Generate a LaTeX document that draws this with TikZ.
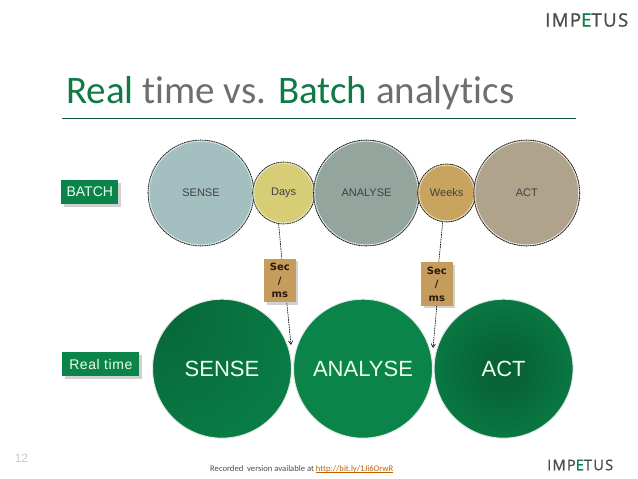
\documentclass[tikz,border=0pt]{standalone}
\usepackage{fontspec}
\setmainfont{Liberation Sans}
\newfontfamily\titlefont[Ligatures=NoCommon]{Carlito}
\newfontfamily\secfont{DejaVu Sans}
\newfontfamily\logofont[LetterSpace=8,FakeBold=1.2]{Open Sans}
\newfontfamily\tagfont[LetterSpace=4]{Liberation Sans}
\usetikzlibrary{shadows,arrows}
\definecolor{impgreen}{HTML}{0A8449}
\definecolor{titlegreen}{HTML}{107A46}
\definecolor{titlegray}{HTML}{6E6E6E}
\definecolor{ringgray}{HTML}{E4E8E6}
\definecolor{tan}{HTML}{C69C5C}
\definecolor{BatchSense}{HTML}{A3BFC0}
\definecolor{BatchDays}{HTML}{D6CD76}
\definecolor{BatchAnalyse}{HTML}{94A59E}
\definecolor{BatchWeeks}{HTML}{C9A45F}
\definecolor{BatchAct}{HTML}{B0A38C}
\pgfdeclareradialshading{sensegreen}{\pgfpoint{-30bp}{26bp}}{color(0bp)=(black!25!impgreen);color(8bp)=(black!22!impgreen);color(45bp)=(black!6!impgreen);color(75bp)=(impgreen);color(100bp)=(impgreen)}
\pgfdeclareradialshading{actgreen}{\pgfpoint{0bp}{0bp}}{color(0bp)=(black!26!impgreen);color(8bp)=(black!24!impgreen);color(30bp)=(black!5!impgreen);color(50bp)=(black!3!impgreen);color(100bp)=(black!3!impgreen)}
\tikzset{
  batchcirc/.style 2 args={circle, inner sep=0pt, minimum size=#1, fill=#2, draw=black, dash pattern=on 1.6pt off .7pt, line width=.6pt,
    font=\fontsize{11}{13}\selectfont, text=black!75,
    path picture={\draw[ringgray, solid, line width=.7pt] (path picture bounding box.center) circle ({#1/2-1.2pt});}},
  realcirc/.style={circle, inner sep=0pt, minimum size=139pt, draw=ringgray, line width=1pt, text=white!92!green,
    font=\fontsize{22}{24}\selectfont},
  tagbox/.style={rectangle, inner sep=0pt, fill=impgreen, text=white!92!green, font=\fontsize{14}{16}\selectfont,
    drop shadow={shadow xshift=2.5pt, shadow yshift=-2.5pt, fill=black!18, opacity=1}},
  secbox/.style={rectangle, inner sep=0pt, minimum width=31.5pt, minimum height=43.5pt, fill=tan, align=center,
    text=black!80!brown, font=\secfont\bfseries\fontsize{10}{13.6}\selectfont,
    drop shadow={shadow xshift=2.5pt, shadow yshift=-2.5pt, fill=black!18, opacity=1}},
  timeline/.style={dash pattern=on 1.6pt off .8pt, line width=.6pt, black, >=angle 60},
  logotext/.style={inner sep=0pt, anchor=west, text=black!70}
}
\begin{document}
\begin{tikzpicture}[x=1pt,y=-1pt]
\useasboundingbox (0,0) rectangle (638,479);

% title and rule
\node[inner sep=0pt, anchor=base west, font=\titlefont\fontsize{39}{42}\selectfont, text=titlegray] (title) at (66,103)
  {\textcolor{titlegreen}{Real} time vs. \textcolor{titlegreen}{Batch} analytics};
\coordinate (ruleL) at (62,118);
\coordinate (ruleR) at (576,118);
\draw[titlegreen!70!black, line width=.8pt] (ruleL) -- (ruleR);

% logos
\node[logotext, font=\logofont\fontsize{18.5}{20}\selectfont] (logotop) at (545,20) {IMP\textcolor{impgreen}{E}TUS};
\node[logotext, font=\logofont\fontsize{14.7}{16}\selectfont] (logobot) at (547,465) {IMP\textcolor{impgreen}{E}TUS};

% batch row
\node[batchcirc={106pt}{BatchSense}] (bsense) at (201,193) {SENSE};
\node[batchcirc={62pt}{BatchDays}] (days) at (283.7,193) {Days};
\node[batchcirc={106pt}{BatchAnalyse}] (banalyse) at (366.5,193) {ANALYSE};
\node[batchcirc={58pt}{BatchWeeks}] (weeks) at (446.7,193) {Weeks};
\node[batchcirc={106pt}{BatchAct}] (bact) at (526.8,193) {ACT};

% real time row
\node[realcirc, shading=sensegreen] (rsense) at (222,368.7) {SENSE};
\node[realcirc, fill=impgreen] (ranalyse) at (363,368.7) {ANALYSE};
\node[realcirc, shading=actgreen] (ract) at (503.6,368.7) {ACT};

% row tags
\node[tagbox, minimum width=57pt, minimum height=24pt] (batchtag) at (89.8,192) {BATCH};
\node[tagbox, minimum width=77pt, minimum height=24pt] (realtag) at (100.8,364) {\tagfont Real time};

% sec boxes
\node[secbox] (sec1) at (279.8,280.6) {Sec\\/\\ms};
\node[secbox] (sec2) at (436.8,284) {Sec\\/\\ms};

\coordinate (drop1) at (291,345);
\coordinate (drop2) at (433,348);
\draw[timeline] (days.south) ++(-5,0) -- ([xshift=2pt]sec1.north);
\draw[timeline, ->] (sec1.south) ++(7,0) -- (drop1);
\draw[timeline] (weeks.south) ++(-4,0) -- ([xshift=2pt]sec2.north);
\draw[timeline, ->] (sec2.south) -- (drop2);

% page number and footer
\node[inner sep=0pt, text=black!22, font=\fontsize{12}{14}\selectfont] (pageno) at (21.5,458) {12};
\node[inner sep=0pt, anchor=base west, text=black!70, font=\titlefont\fontsize{8.6}{10}\selectfont] (footer) at (210,471)
  {Recorded\ \ version available at \textcolor{orange!75!black}{$\underline{\smash{\hbox{http://bit.ly/1Ji6OrwR}}}$}};
\end{tikzpicture}
\end{document}
